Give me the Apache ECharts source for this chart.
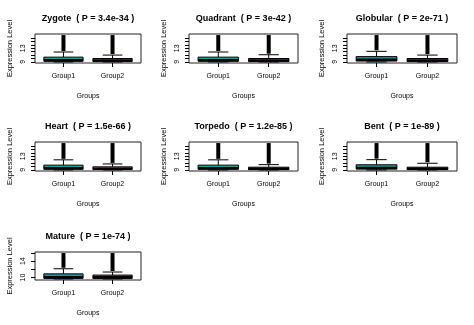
<!DOCTYPE html>
<html>
<head>
<meta charset="utf-8">
<script src="https://cdn.jsdelivr.net/npm/echarts@6/dist/echarts.min.js"></script>
<style>html,body{margin:0;padding:0;background:#fff}#c{width:474px;height:325px}</style>
</head>
<body>
<div id="c"></div>
<script>
// ---- data ----
const stages = ['Zygote', 'Quadrant', 'Globular', 'Heart', 'Torpedo', 'Bent', 'Mature'];
const pValues = ['3.4e-34', '3e-42', '2e-71', '1.5e-66', '1.2e-85', '1e-89', '1e-74'];
const groups = ['Group1', 'Group2'];
// [lower whisker, Q1, median, Q3, upper whisker, max outlier]
const group1Stats = [
  [9.0, 9.2, 9.5, 10.4, 11.9, 16.85],
  [9.0, 9.2, 9.5, 10.4, 11.9, 16.85],
  [9.0, 9.25, 9.6, 10.55, 12.1, 16.85],
  [9.0, 9.2, 9.5, 10.4, 11.95, 16.85],
  [9.0, 9.2, 9.5, 10.4, 11.95, 16.85],
  [9.0, 9.25, 9.55, 10.5, 12.0, 16.85],
  [9.65, 9.8, 10.05, 10.9, 12.15, 16.0]
];
const group2Stats = [
  [9.0, 9.1, 9.4, 10.0, 11.0, 16.85],
  [9.0, 9.1, 9.4, 10.0, 11.1, 16.85],
  [9.0, 9.1, 9.4, 10.0, 11.0, 16.85],
  [9.0, 9.1, 9.35, 9.9, 10.75, 16.85],
  [9.0, 9.1, 9.35, 9.8, 10.55, 16.85],
  [9.0, 9.1, 9.35, 9.8, 10.95, 16.85],
  [9.65, 9.75, 10.15, 10.6, 11.35, 16.0]
];
const yTicks = [
  [9, 10, 11, 12, 13, 14, 15, 16],
  [9, 10, 11, 12, 13, 14, 15, 16],
  [9, 10, 11, 12, 13, 14, 15, 16],
  [9, 10, 11, 12, 13, 14, 15, 16],
  [9, 10, 11, 12, 13, 14, 15, 16],
  [9, 10, 11, 12, 13, 14, 15, 16],
  [10, 12, 14, 16]
];
const yLabels = [[9, 13], [9, 13], [9, 13], [9, 13], [9, 13], [9, 13], [10, 14]];

// ---- layout ----
const colLeft = [35, 189, 347];
const colWidth = [106, 109, 110];
const rowTop = [34, 142, 252];
const rowHeight = [29, 29, 28];
const groupColors = ['#1f9a9a', '#d27cc4'];
const FONT = 'Liberation Sans, Arial, Helvetica, sans-serif';

const grids = [], xAxes = [], yAxes = [], series = [], titles = [];

function renderItem(params, api) {
  const x = api.value(0);
  const c = v => api.coord([x, v]);
  const half = api.size([0.8, 0])[0] / 2;
  const cap = half / 2;
  const px = c(api.value(3))[0];
  const yl = c(api.value(1))[1], y1 = c(api.value(2))[1], ym = c(api.value(3))[1];
  const y3 = c(api.value(4))[1], yu = c(api.value(5))[1], ymax = c(api.value(6))[1];
  const blk = { stroke: '#000', lineWidth: 1 };
  return {
    type: 'group',
    children: [
      { type: 'line', shape: { x1: px, y1: yu - 1, x2: px, y2: ymax }, style: { stroke: '#000', lineWidth: 4 } },
      { type: 'line', shape: { x1: px, y1: y3, x2: px, y2: yu }, style: blk },
      { type: 'line', shape: { x1: px, y1: y1, x2: px, y2: yl }, style: blk },
      { type: 'line', shape: { x1: px - cap, y1: yu, x2: px + cap, y2: yu }, style: blk },
      { type: 'line', shape: { x1: px - cap, y1: yl, x2: px + cap, y2: yl }, style: blk },
      { type: 'rect', shape: { x: px - half, y: y3, width: 2 * half, height: y1 - y3 },
        style: { fill: groupColors[params.dataIndex], stroke: '#000', lineWidth: 1 } },
      { type: 'line', shape: { x1: px - half, y1: ym, x2: px + half, y2: ym }, style: { stroke: '#000', lineWidth: 2.5 } }
    ]
  };
}

stages.forEach((st, i) => {
  const r = Math.floor(i / 3), col = i % 3;
  const left = colLeft[col], top = rowTop[r], w = colWidth[col], h = rowHeight[r];
  grids.push({ left: left, top: top, width: w, height: h, show: true, borderColor: '#222', borderWidth: 1, backgroundColor: 'transparent' });
  const lo = Math.min(group1Stats[i][0], group2Stats[i][0]);
  const hi = Math.max(group1Stats[i][5], group2Stats[i][5]);
  const pad = 0.04 * (hi - lo);
  titles.push({
    text: st + '  ( P = ' + pValues[i] + ' )',
    left: left + w / 2, top: top - 20, textAlign: 'center', padding: 0,
    textStyle: { fontSize: 9, fontWeight: 'bold', color: '#000', fontFamily: FONT }
  });
  xAxes.push({
    type: 'value', gridIndex: i, min: 0.42, max: 2.58,
    name: 'Groups', nameLocation: 'middle', nameGap: 30,
    nameTextStyle: { fontSize: 7, color: '#000', fontFamily: FONT },
    axisLine: { show: false }, splitLine: { show: false },
    axisTick: { show: true, length: 4, customValues: [1, 2], lineStyle: { color: '#000' } },
    axisLabel: { customValues: [1, 2], formatter: v => groups[Math.round(v) - 1], fontSize: 7, color: '#000', margin: 10, fontFamily: FONT }
  });
  yAxes.push({
    type: 'value', gridIndex: i, min: lo - pad, max: hi + pad,
    name: 'Expression Level', nameLocation: 'middle', nameGap: 25, nameRotate: 90,
    nameTextStyle: { fontSize: 7.5, color: '#000', fontFamily: FONT, verticalAlign: 'middle' },
    axisLine: { show: false }, splitLine: { show: false },
    axisTick: { show: true, length: 4, customValues: yTicks[i], lineStyle: { color: '#000' } },
    axisLabel: { customValues: yLabels[i], rotate: 90, fontSize: 7, color: '#000', margin: 8, fontFamily: FONT }
  });
  series.push({
    type: 'custom', xAxisIndex: i, yAxisIndex: i, renderItem: renderItem, clip: true,
    encode: { x: 0, y: [1, 2, 3, 4, 5, 6] },
    data: [[1].concat(group1Stats[i]), [2].concat(group2Stats[i])]
  });
});

const chart = echarts.init(document.getElementById('c'), null, { renderer: 'canvas' });
chart.setOption({
  animation: false, backgroundColor: '#fff',
  title: titles, grid: grids, xAxis: xAxes, yAxis: yAxes, series: series
});
</script>
</body>
</html>
